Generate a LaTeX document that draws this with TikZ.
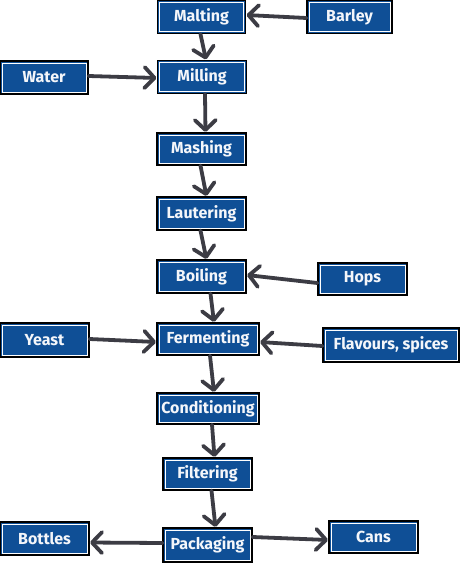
\documentclass[tikz,border=0pt]{standalone}
\usepackage{fontspec}
\setmainfont{Fira Sans}
\usetikzlibrary{arrows.meta}
\definecolor{boxblue}{HTML}{0F4F96}
\definecolor{arrowgrey}{HTML}{3C3C44}
\definecolor{boxtext}{HTML}{F4F6FA}
\tikzset{
  stepbox/.style={draw=black, line width=1.2pt, fill=boxblue, text=boxtext,
    font=\bfseries\fontsize{16}{18}\selectfont, inner sep=0pt, anchor=center,
    path picture={\draw[white, line width=0.6pt]
      ([shift={(2pt,2pt)}]path picture bounding box.south west) rectangle
      ([shift={(-2pt,-2pt)}]path picture bounding box.north east);}},
  flow/.style={draw=arrowgrey, line width=3.8pt, line cap=round,
    -{Straight Barb[length=10pt,width=21pt,round]}, shorten >=0.5pt}
}
\begin{document}
\begin{tikzpicture}[x=1pt,y=-1pt]
\useasboundingbox (0,0) rectangle (462,563);
\fill[white] (0,0) rectangle (462,563);
\node[stepbox, minimum width=88pt, minimum height=33pt] (malting) at (201.5,17) {Malting};
\node[stepbox, minimum width=85pt, minimum height=33pt] (barley) at (349.5,17) {Barley};
\node[stepbox, minimum width=88pt, minimum height=33pt] (water) at (44,77.5) {Water};
\node[stepbox, minimum width=89pt, minimum height=33pt] (milling) at (202,77) {Milling};
\node[stepbox, minimum width=89pt, minimum height=32pt] (mashing) at (201.5,149) {Mashing};
\node[stepbox, minimum width=89pt, minimum height=33pt] (lautering) at (201.5,213.5) {Lautering};
\node[stepbox, minimum width=89pt, minimum height=33pt] (boiling) at (201.5,276.5) {Boiling};
\node[stepbox, minimum width=89pt, minimum height=32pt] (hops) at (362.5,279) {Hops};
\node[stepbox, minimum width=89pt, minimum height=34pt] (yeast) at (44.5,340) {Yeast};
\node[stepbox, minimum width=102pt, minimum height=32pt] (fermenting) at (208,339) {Fermenting};
\node[stepbox, minimum width=136pt, minimum height=34pt] (flavours) at (391,345) {Flavours, spices};
\node[stepbox, minimum width=102pt, minimum height=31pt] (conditioning) at (208,408.5) {Conditioning};
\node[stepbox, minimum width=89pt, minimum height=32pt] (filtering) at (207.5,474) {Filtering};
\node[stepbox, minimum width=89pt, minimum height=33pt] (bottles) at (44.5,538.5) {Bottles};
\node[stepbox, minimum width=89pt, minimum height=34pt] (packaging) at (207.5,545) {Packaging};
\node[stepbox, minimum width=89pt, minimum height=32pt] (cans) at (373.5,537) {Cans};
% connectors
\draw[flow] ([yshift=-1pt]barley.west) -- ([yshift=2pt]malting.east);
\draw[flow] ([xshift=-1pt]malting.south) -- ([xshift=4pt]milling.north);
\draw[flow] ([yshift=1.5pt]water.east) -- ([yshift=-1pt]milling.west);
\draw[flow] ([xshift=3pt]milling.south) -- ([xshift=4pt]mashing.north);
\draw[flow] ([xshift=-1pt]mashing.south) -- ([xshift=5pt]lautering.north);
\draw[flow] ([xshift=-1pt]lautering.south) -- ([xshift=5pt]boiling.north);
\draw[flow] ([yshift=-4pt]hops.west) -- ([yshift=1.5pt]boiling.east);
\draw[flow] ([xshift=9pt]boiling.south) -- ([xshift=6pt]fermenting.north);
\draw[flow] ([yshift=1pt]yeast.east) -- ([yshift=-3pt]fermenting.west);
\draw[flow] ([yshift=-1pt]flavours.west) -- ([yshift=-3pt]fermenting.east);
\draw[flow] ([xshift=2pt]fermenting.south) -- ([xshift=6pt]conditioning.north);
\draw[flow] ([xshift=4pt]conditioning.south) -- ([xshift=7pt]filtering.north);
\draw[flow] ([xshift=4pt]filtering.south) -- ([xshift=8pt]packaging.north);
\draw[flow] ([yshift=2pt]packaging.west) -- ([yshift=-4pt]bottles.east);
\draw[flow] ([yshift=8pt]packaging.east) -- ([yshift=-3pt]cans.west);
\end{tikzpicture}
\end{document}
